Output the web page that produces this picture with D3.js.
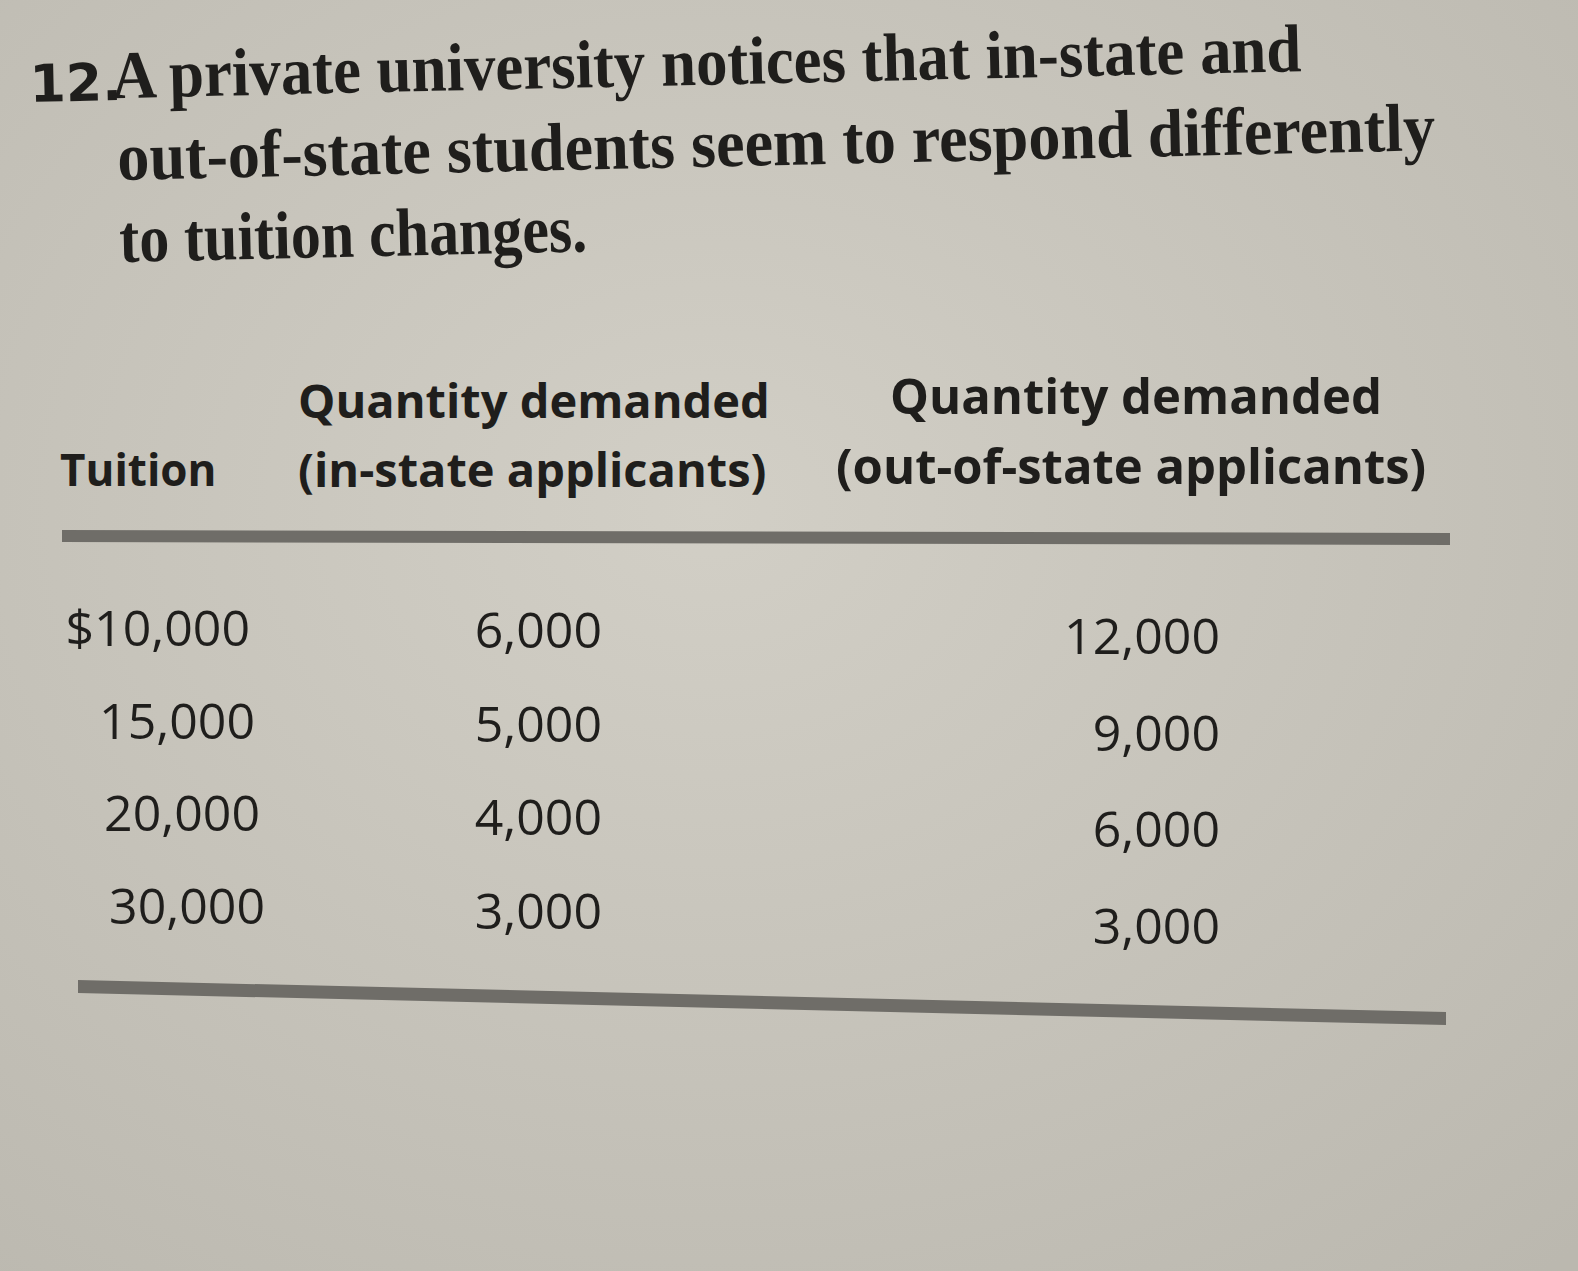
<!DOCTYPE html>
<html><head><meta charset="utf-8">
<script src="https://cdn.jsdelivr.net/npm/d3@7"></script>
<style>body{margin:0;background:#c8c5bc;}svg{display:block}</style>
</head><body>
<svg id="chart" width="1578" height="1271"></svg>
<script>
// table values
var tuition = ["$10,000", "15,000", "20,000", "30,000"];
var inState = ["6,000", "5,000", "4,000", "3,000"];
var outState = ["12,000", "9,000", "6,000", "3,000"];
var titleLines = ["A private university notices that in-state and",
	"out-of-state students seem to respond differently",
	"to tuition changes."];

var svg = d3.select("#chart");
var defs = svg.append("defs");
var grad = defs.append("radialGradient").attr("id", "paper").attr("cx", "45%").attr("cy", "40%").attr("r", "80%");
grad.append("stop").attr("offset", "0%").attr("stop-color", "#d2cfc6");
grad.append("stop").attr("offset", "100%").attr("stop-color", "#bbb8af");
svg.append("rect").attr("width", 1578).attr("height", 1271).attr("fill", "url(#paper)");

var ink = "#1f1e1c";

// question number and title (slightly tilted, as in the photo)
var title = svg.append("g").attr("transform", "rotate(-1.3,30,100)");
title.append("text").attr("x", 30).attr("y", 102).text("12.")
	.attr("font-family", "DejaVu Sans").attr("font-weight", "bold").attr("font-size", 52).attr("fill", ink);
title.selectAll("text.title").data(titleLines).enter().append("text")
	.attr("class", "title")
	.attr("x", function(d, i){ return i == 0 ? 112 : 116; })
	.attr("y", function(d, i){ return 100 + i * 82; })
	.attr("font-family", "Liberation Serif").attr("font-weight", "bold").attr("font-size", 68)
	.attr("fill", ink).attr("textLength", function(d, i){ return [1190, 1318, 468][i]; })
	.attr("lengthAdjust", "spacingAndGlyphs")
	.text(function(d){ return d; });

// table
var colX = {t: 250, i: 602, o: 1220};
var rows = d3.scaleBand().domain(d3.range(tuition.length)).range([582, 952]);

var hdr = svg.append("g").attr("font-family", "Open Sans").attr("font-weight", "bold")
	.attr("font-size", 47).attr("fill", ink);
hdr.append("text").attr("x", 60).attr("y", 486).attr("font-size", 44).text("Tuition");
hdr.append("text").attr("x", 298).attr("y", 418).text("Quantity demanded");
hdr.append("text").attr("x", 298).attr("y", 487).text("(in-state applicants)");
hdr.append("text").attr("x", 890).attr("y", 414).attr("font-size", 49).text("Quantity demanded");
hdr.append("text").attr("x", 836).attr("y", 484).attr("font-size", 49).text("(out-of-state applicants)");

svg.append("path").attr("d", "M62,530 L1450,533 L1450,545 L62,542 Z").attr("fill", "#6f6d68");
svg.append("path").attr("d", "M78,980 L1446,1012 L1446,1025 L78,993 Z").attr("fill", "#6f6d68");

var body = svg.append("g").attr("font-family", "Open Sans").attr("font-size", 50)
	.attr("fill", ink).attr("text-anchor", "end");
[["t", tuition, 0], ["i", inState, 2], ["o", outState, 8]].forEach(function(c){
	body.selectAll(null).data(c[1]).enter().append("text")
		.attr("x", function(d, i){ return colX[c[0]] + (c[0] == "t" ? i * 5 : 0); })
		.attr("y", function(d, i){ return rows(i) + rows.bandwidth() / 2 + 18 + c[2] + i * (c[2] / 2); })
		.text(function(d){ return d; });
});
</script>
</body></html>
